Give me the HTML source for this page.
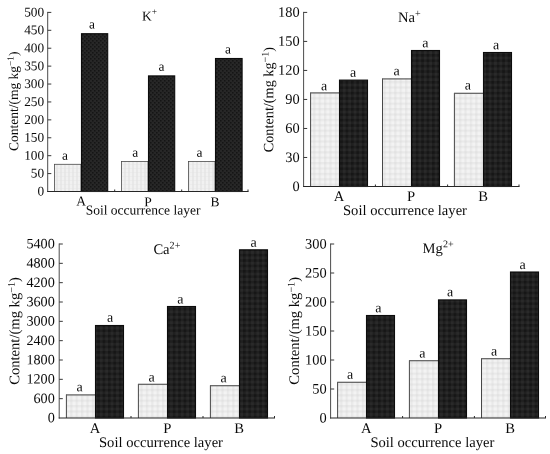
<!DOCTYPE html>
<html><head><meta charset="utf-8"><title>Soil cation content</title>
<style>
html,body{margin:0;padding:0;background:#fff;}
svg{display:block;}
text{font-family:"Liberation Serif", "DejaVu Serif", serif;fill:#0a0a0a;text-rendering:geometricPrecision;}
</style></head><body>
<svg width="550" height="454" viewBox="0 0 550 454">
<defs>
<pattern id="pl" width="4" height="4" patternUnits="userSpaceOnUse"><rect width="4" height="4" fill="#f1f1f1"/><rect x="0" y="0" width="2" height="4" fill="#e8e8e8"/><rect x="0" y="0" width="4" height="1" fill="#e4e4e4" opacity="0.3"/></pattern>
<pattern id="pd" width="4" height="4" patternUnits="userSpaceOnUse"><rect width="4" height="4" fill="#272727"/><rect x="0" y="0" width="1.6" height="1.6" fill="#151515"/><rect x="2" y="2" width="1.6" height="1.6" fill="#151515"/></pattern>
<pattern id="pl2" width="5.4" height="5.4" patternUnits="userSpaceOnUse"><rect width="5.4" height="5.4" fill="#f3f3f3"/><rect x="0" y="0" width="2.2" height="5.4" fill="#e9e9e9"/><rect x="0" y="0" width="5.4" height="2.2" fill="#e9e9e9"/><rect x="0" y="0" width="2.2" height="2.2" fill="#e2e2e2"/></pattern>
<pattern id="pd2" width="5.4" height="5.4" patternUnits="userSpaceOnUse"><rect width="5.4" height="5.4" fill="#2a2a2a"/><rect x="0" y="0" width="2.6" height="5.4" fill="#202020"/><rect x="0" y="0" width="5.4" height="2.6" fill="#202020"/><rect x="0" y="0" width="2.6" height="2.6" fill="#161616"/></pattern>
</defs>
<rect width="550" height="454" fill="#fff"/>

<g id="K">
<rect x="54.5" y="164.30" width="26.50" height="27.20" fill="url(#pl)" stroke="#4a4a4a" stroke-width="0.8"/>
<rect x="81.50" y="33.70" width="26.20" height="157.80" fill="url(#pd)" stroke="#0c0c0c" stroke-width="1.1"/>
<text x="65.1" y="159.7" transform="rotate(0.03 65.1 159.7)" font-size="13.4" text-anchor="middle">a</text>
<text x="92" y="28.6" transform="rotate(0.03 92 28.6)" font-size="13.4" text-anchor="middle">a</text>
<rect x="121.4" y="161.40" width="26.60" height="30.10" fill="url(#pl)" stroke="#4a4a4a" stroke-width="0.8"/>
<rect x="148.50" y="75.90" width="26.20" height="115.60" fill="url(#pd)" stroke="#0c0c0c" stroke-width="1.1"/>
<text x="135.2" y="156.8" transform="rotate(0.03 135.2 156.8)" font-size="13.4" text-anchor="middle">a</text>
<text x="161.4" y="70.8" transform="rotate(0.03 161.4 70.8)" font-size="13.4" text-anchor="middle">a</text>
<rect x="188.4" y="161.40" width="26.60" height="30.10" fill="url(#pl)" stroke="#4a4a4a" stroke-width="0.8"/>
<rect x="215.50" y="58.50" width="26.60" height="133.00" fill="url(#pd)" stroke="#0c0c0c" stroke-width="1.1"/>
<text x="199.4" y="156.8" transform="rotate(0.03 199.4 156.8)" font-size="13.4" text-anchor="middle">a</text>
<text x="228" y="53.6" transform="rotate(0.03 228 53.6)" font-size="13.4" text-anchor="middle">a</text>
<path d="M47.7 11.9V192.0" fill="none" stroke="#383838" stroke-width="0.9"/>
<path d="M47.25 191.5H248.5" fill="none" stroke="#262626" stroke-width="1.05"/>
<text x="44.1" y="195.5" transform="rotate(0.03 44.1 195.5)" font-size="13.3" text-anchor="end">0</text>
<path d="M47.7 173.59h3.6" stroke="#383838" stroke-width="1"/>
<text x="44.1" y="177.6" transform="rotate(0.03 44.1 177.6)" font-size="13.3" text-anchor="end">50</text>
<path d="M47.7 155.68h3.6" stroke="#383838" stroke-width="1"/>
<text x="44.1" y="159.7" transform="rotate(0.03 44.1 159.7)" font-size="13.3" text-anchor="end">100</text>
<path d="M47.7 137.77h3.6" stroke="#383838" stroke-width="1"/>
<text x="44.1" y="141.8" transform="rotate(0.03 44.1 141.8)" font-size="13.3" text-anchor="end">150</text>
<path d="M47.7 119.86h3.6" stroke="#383838" stroke-width="1"/>
<text x="44.1" y="123.9" transform="rotate(0.03 44.1 123.9)" font-size="13.3" text-anchor="end">200</text>
<path d="M47.7 101.95h3.6" stroke="#383838" stroke-width="1"/>
<text x="44.1" y="106.0" transform="rotate(0.03 44.1 106.0)" font-size="13.3" text-anchor="end">250</text>
<path d="M47.7 84.04h3.6" stroke="#383838" stroke-width="1"/>
<text x="44.1" y="88.1" transform="rotate(0.03 44.1 88.1)" font-size="13.3" text-anchor="end">300</text>
<path d="M47.7 66.13h3.6" stroke="#383838" stroke-width="1"/>
<text x="44.1" y="70.2" transform="rotate(0.03 44.1 70.2)" font-size="13.3" text-anchor="end">350</text>
<path d="M47.7 48.22h3.6" stroke="#383838" stroke-width="1"/>
<text x="44.1" y="52.2" transform="rotate(0.03 44.1 52.2)" font-size="13.3" text-anchor="end">400</text>
<path d="M47.7 30.31h3.6" stroke="#383838" stroke-width="1"/>
<text x="44.1" y="34.3" transform="rotate(0.03 44.1 34.3)" font-size="13.3" text-anchor="end">450</text>
<path d="M47.7 12.40h3.6" stroke="#383838" stroke-width="1"/>
<text x="44.1" y="16.4" transform="rotate(0.03 44.1 16.4)" font-size="13.3" text-anchor="end">500</text>
<path d="M114.7 191.5v-2" stroke="#2a2a2a" stroke-width="1"/>
<path d="M181.7 191.5v-2" stroke="#2a2a2a" stroke-width="1"/>
<path d="M248.0 191.5v-2" stroke="#2a2a2a" stroke-width="1"/>
<text x="81" y="205.6" transform="rotate(0.03 81 205.6)" font-size="13.5" text-anchor="middle">A</text>
<text x="148" y="206.2" transform="rotate(0.03 148 206.2)" font-size="13.5" text-anchor="middle">P</text>
<text x="215" y="206.2" transform="rotate(0.03 215 206.2)" font-size="13.5" text-anchor="middle">B</text>
<text x="85.7" y="214.4" transform="rotate(0.03 85.7 214.4)" font-size="13.5" text-anchor="start">Soil occurrence layer</text>
<text x="142" y="20.4" transform="rotate(0.03 142 20.4)" font-size="13.5">K<tspan dy="-5.6" font-size="9.3">+</tspan></text>
<text transform="translate(18.1 101.3) rotate(-90.03)" font-size="13.5" text-anchor="middle">Content/(mg kg<tspan dy="-4.6" font-size="9.3">−1</tspan><tspan dy="4.6">)</tspan></text>
</g>
<g id="Na">
<rect x="310.6" y="92.60" width="28.40" height="93.90" fill="url(#pl2)"/>
<path d="M310.6 186.5V92.6" stroke="#333" stroke-width="0.9" fill="none"/>
<path d="M310.20000000000005 92.89999999999999H339" stroke="#5c5c5c" stroke-width="1.2" fill="none"/>
<rect x="339.50" y="80.10" width="28.00" height="106.40" fill="url(#pd2)" stroke="#0c0c0c" stroke-width="1.1"/>
<text x="324" y="90.2" transform="rotate(0.03 324 90.2)" font-size="14" text-anchor="middle">a</text>
<text x="353" y="76.8" transform="rotate(0.03 353 76.8)" font-size="14" text-anchor="middle">a</text>
<rect x="382.5" y="78.60" width="28.50" height="107.90" fill="url(#pl2)"/>
<path d="M382.5 186.5V78.6" stroke="#333" stroke-width="0.9" fill="none"/>
<path d="M382.1 78.89999999999999H411" stroke="#5c5c5c" stroke-width="1.2" fill="none"/>
<rect x="411.50" y="50.50" width="28.00" height="136.00" fill="url(#pd2)" stroke="#0c0c0c" stroke-width="1.1"/>
<text x="396.6" y="75.2" transform="rotate(0.03 396.6 75.2)" font-size="14" text-anchor="middle">a</text>
<text x="425.4" y="47.2" transform="rotate(0.03 425.4 47.2)" font-size="14" text-anchor="middle">a</text>
<rect x="454.4" y="93.00" width="28.60" height="93.50" fill="url(#pl2)"/>
<path d="M454.4 186.5V93" stroke="#333" stroke-width="0.9" fill="none"/>
<path d="M454.0 93.3H483" stroke="#5c5c5c" stroke-width="1.2" fill="none"/>
<rect x="483.50" y="52.50" width="28.00" height="134.00" fill="url(#pd2)" stroke="#0c0c0c" stroke-width="1.1"/>
<text x="467.8" y="89.6" transform="rotate(0.03 467.8 89.6)" font-size="14" text-anchor="middle">a</text>
<text x="496" y="49.2" transform="rotate(0.03 496 49.2)" font-size="14" text-anchor="middle">a</text>
<path d="M303.6 11.9V187.0" fill="none" stroke="#383838" stroke-width="0.9"/>
<path d="M303.15000000000003 186.5H519.5" fill="none" stroke="#262626" stroke-width="1.05"/>
<text x="299.7" y="190.9" transform="rotate(0.03 299.7 190.9)" font-size="14.4" text-anchor="end">0</text>
<path d="M303.6 157.48h3.6" stroke="#383838" stroke-width="1"/>
<text x="299.7" y="161.9" transform="rotate(0.03 299.7 161.9)" font-size="14.4" text-anchor="end">30</text>
<path d="M303.6 128.47h3.6" stroke="#383838" stroke-width="1"/>
<text x="299.7" y="132.8" transform="rotate(0.03 299.7 132.8)" font-size="14.4" text-anchor="end">60</text>
<path d="M303.6 99.45h3.6" stroke="#383838" stroke-width="1"/>
<text x="299.7" y="103.8" transform="rotate(0.03 299.7 103.8)" font-size="14.4" text-anchor="end">90</text>
<path d="M303.6 70.43h3.6" stroke="#383838" stroke-width="1"/>
<text x="299.7" y="74.8" transform="rotate(0.03 299.7 74.8)" font-size="14.4" text-anchor="end">120</text>
<path d="M303.6 41.42h3.6" stroke="#383838" stroke-width="1"/>
<text x="299.7" y="45.8" transform="rotate(0.03 299.7 45.8)" font-size="14.4" text-anchor="end">150</text>
<path d="M303.6 12.40h3.6" stroke="#383838" stroke-width="1"/>
<text x="299.7" y="16.8" transform="rotate(0.03 299.7 16.8)" font-size="14.4" text-anchor="end">180</text>
<path d="M375.4 186.5v-2" stroke="#2a2a2a" stroke-width="1"/>
<path d="M447.6 186.5v-2" stroke="#2a2a2a" stroke-width="1"/>
<path d="M519.0 186.5v-2" stroke="#2a2a2a" stroke-width="1"/>
<text x="339" y="201" transform="rotate(0.03 339 201)" font-size="14.6" text-anchor="middle">A</text>
<text x="411" y="201" transform="rotate(0.03 411 201)" font-size="14.6" text-anchor="middle">P</text>
<text x="483" y="201" transform="rotate(0.03 483 201)" font-size="14.6" text-anchor="middle">B</text>
<text x="343" y="215" transform="rotate(0.03 343 215)" font-size="14.6" text-anchor="start">Soil occurrence layer</text>
<text x="398" y="22" transform="rotate(0.03 398 22)" font-size="14.6">Na<tspan dy="-5.6" font-size="10.1">+</tspan></text>
<text transform="translate(273.2 99.6) rotate(-90.03)" font-size="14.25" text-anchor="middle">Content/(mg kg<tspan dy="-4.6" font-size="10.1">−1</tspan><tspan dy="4.6">)</tspan></text>
</g>
<g id="Ca">
<rect x="66.4" y="394.60" width="28.60" height="23.40" fill="url(#pl2)"/>
<path d="M66.4 418V394.6" stroke="#333" stroke-width="0.9" fill="none"/>
<path d="M66.0 394.90000000000003H95" stroke="#5c5c5c" stroke-width="1.2" fill="none"/>
<rect x="95.50" y="325.50" width="28.00" height="92.50" fill="url(#pd2)" stroke="#0c0c0c" stroke-width="1.1"/>
<text x="79.6" y="391.2" transform="rotate(0.03 79.6 391.2)" font-size="14" text-anchor="middle">a</text>
<text x="110" y="321.8" transform="rotate(0.03 110 321.8)" font-size="14" text-anchor="middle">a</text>
<rect x="138.4" y="384.00" width="28.60" height="34.00" fill="url(#pl2)"/>
<path d="M138.4 418V384" stroke="#333" stroke-width="0.9" fill="none"/>
<path d="M138.0 384.3H167" stroke="#5c5c5c" stroke-width="1.2" fill="none"/>
<rect x="167.50" y="306.50" width="28.00" height="111.50" fill="url(#pd2)" stroke="#0c0c0c" stroke-width="1.1"/>
<text x="151.6" y="381.6" transform="rotate(0.03 151.6 381.6)" font-size="14" text-anchor="middle">a</text>
<text x="180.4" y="303.6" transform="rotate(0.03 180.4 303.6)" font-size="14" text-anchor="middle">a</text>
<rect x="210.4" y="385.40" width="28.60" height="32.60" fill="url(#pl2)"/>
<path d="M210.4 418V385.4" stroke="#333" stroke-width="0.9" fill="none"/>
<path d="M210.0 385.7H239" stroke="#5c5c5c" stroke-width="1.2" fill="none"/>
<rect x="239.50" y="249.80" width="28.00" height="168.20" fill="url(#pd2)" stroke="#0c0c0c" stroke-width="1.1"/>
<text x="223.6" y="382.2" transform="rotate(0.03 223.6 382.2)" font-size="14" text-anchor="middle">a</text>
<text x="253.6" y="246.7" transform="rotate(0.03 253.6 246.7)" font-size="14" text-anchor="middle">a</text>
<path d="M59.2 243.5V418.5" fill="none" stroke="#383838" stroke-width="0.9"/>
<path d="M58.75 418H275" fill="none" stroke="#262626" stroke-width="1.05"/>
<text x="54.8" y="422.3" transform="rotate(0.03 54.8 422.3)" font-size="14.2" text-anchor="end">0</text>
<path d="M59.2 398.67h3.6" stroke="#383838" stroke-width="1"/>
<text x="54.8" y="403.0" transform="rotate(0.03 54.8 403.0)" font-size="14.2" text-anchor="end">600</text>
<path d="M59.2 379.33h3.6" stroke="#383838" stroke-width="1"/>
<text x="54.8" y="383.6" transform="rotate(0.03 54.8 383.6)" font-size="14.2" text-anchor="end">1200</text>
<path d="M59.2 360.00h3.6" stroke="#383838" stroke-width="1"/>
<text x="54.8" y="364.3" transform="rotate(0.03 54.8 364.3)" font-size="14.2" text-anchor="end">1800</text>
<path d="M59.2 340.67h3.6" stroke="#383838" stroke-width="1"/>
<text x="54.8" y="345.0" transform="rotate(0.03 54.8 345.0)" font-size="14.2" text-anchor="end">2400</text>
<path d="M59.2 321.33h3.6" stroke="#383838" stroke-width="1"/>
<text x="54.8" y="325.6" transform="rotate(0.03 54.8 325.6)" font-size="14.2" text-anchor="end">3000</text>
<path d="M59.2 302.00h3.6" stroke="#383838" stroke-width="1"/>
<text x="54.8" y="306.3" transform="rotate(0.03 54.8 306.3)" font-size="14.2" text-anchor="end">3600</text>
<path d="M59.2 282.67h3.6" stroke="#383838" stroke-width="1"/>
<text x="54.8" y="287.0" transform="rotate(0.03 54.8 287.0)" font-size="14.2" text-anchor="end">4200</text>
<path d="M59.2 263.33h3.6" stroke="#383838" stroke-width="1"/>
<text x="54.8" y="267.6" transform="rotate(0.03 54.8 267.6)" font-size="14.2" text-anchor="end">4800</text>
<path d="M59.2 244.00h3.6" stroke="#383838" stroke-width="1"/>
<text x="54.8" y="248.3" transform="rotate(0.03 54.8 248.3)" font-size="14.2" text-anchor="end">5400</text>
<path d="M131 418v-2" stroke="#2a2a2a" stroke-width="1"/>
<path d="M203 418v-2" stroke="#2a2a2a" stroke-width="1"/>
<path d="M274.5 418v-2" stroke="#2a2a2a" stroke-width="1"/>
<text x="95" y="433" transform="rotate(0.03 95 433)" font-size="14.6" text-anchor="middle">A</text>
<text x="167.4" y="433" transform="rotate(0.03 167.4 433)" font-size="14.6" text-anchor="middle">P</text>
<text x="239" y="433" transform="rotate(0.03 239 433)" font-size="14.6" text-anchor="middle">B</text>
<text x="99" y="447" transform="rotate(0.03 99 447)" font-size="14.6" text-anchor="start">Soil occurrence layer</text>
<text x="153.4" y="254" transform="rotate(0.03 153.4 254)" font-size="14.6">Ca<tspan dy="-5.6" font-size="10.1">2+</tspan></text>
<text transform="translate(19.3 331) rotate(-90.03)" font-size="14.6" text-anchor="middle">Content/(mg kg<tspan dy="-4.6" font-size="10.1">−1</tspan><tspan dy="4.6">)</tspan></text>
</g>
<g id="Mg">
<rect x="337.6" y="382.00" width="28.40" height="36.00" fill="url(#pl2)"/>
<path d="M337.6 418V382" stroke="#333" stroke-width="0.9" fill="none"/>
<path d="M337.20000000000005 382.3H366" stroke="#5c5c5c" stroke-width="1.2" fill="none"/>
<rect x="366.50" y="315.50" width="28.00" height="102.50" fill="url(#pd2)" stroke="#0c0c0c" stroke-width="1.1"/>
<text x="350" y="378.8" transform="rotate(0.03 350 378.8)" font-size="14" text-anchor="middle">a</text>
<text x="378.4" y="312.2" transform="rotate(0.03 378.4 312.2)" font-size="14" text-anchor="middle">a</text>
<rect x="409.4" y="360.40" width="28.60" height="57.60" fill="url(#pl2)"/>
<path d="M409.4 418V360.4" stroke="#333" stroke-width="0.9" fill="none"/>
<path d="M409.0 360.7H438" stroke="#5c5c5c" stroke-width="1.2" fill="none"/>
<rect x="438.50" y="299.90" width="28.00" height="118.10" fill="url(#pd2)" stroke="#0c0c0c" stroke-width="1.1"/>
<text x="422.4" y="357.6" transform="rotate(0.03 422.4 357.6)" font-size="14" text-anchor="middle">a</text>
<text x="450" y="296.2" transform="rotate(0.03 450 296.2)" font-size="14" text-anchor="middle">a</text>
<rect x="481.5" y="358.40" width="28.50" height="59.60" fill="url(#pl2)"/>
<path d="M481.5 418V358.4" stroke="#333" stroke-width="0.9" fill="none"/>
<path d="M481.1 358.7H510" stroke="#5c5c5c" stroke-width="1.2" fill="none"/>
<rect x="510.50" y="272.00" width="28.00" height="146.00" fill="url(#pd2)" stroke="#0c0c0c" stroke-width="1.1"/>
<text x="494" y="355.6" transform="rotate(0.03 494 355.6)" font-size="14" text-anchor="middle">a</text>
<text x="522.7" y="268.9" transform="rotate(0.03 522.7 268.9)" font-size="14" text-anchor="middle">a</text>
<path d="M330.6 243.5V418.5" fill="none" stroke="#383838" stroke-width="0.9"/>
<path d="M330.15000000000003 418H546" fill="none" stroke="#262626" stroke-width="1.05"/>
<text x="326.6" y="422.4" transform="rotate(0.03 326.6 422.4)" font-size="14.4" text-anchor="end">0</text>
<path d="M330.6 389.00h3.6" stroke="#383838" stroke-width="1"/>
<text x="326.6" y="393.4" transform="rotate(0.03 326.6 393.4)" font-size="14.4" text-anchor="end">50</text>
<path d="M330.6 360.00h3.6" stroke="#383838" stroke-width="1"/>
<text x="326.6" y="364.4" transform="rotate(0.03 326.6 364.4)" font-size="14.4" text-anchor="end">100</text>
<path d="M330.6 331.00h3.6" stroke="#383838" stroke-width="1"/>
<text x="326.6" y="335.4" transform="rotate(0.03 326.6 335.4)" font-size="14.4" text-anchor="end">150</text>
<path d="M330.6 302.00h3.6" stroke="#383838" stroke-width="1"/>
<text x="326.6" y="306.4" transform="rotate(0.03 326.6 306.4)" font-size="14.4" text-anchor="end">200</text>
<path d="M330.6 273.00h3.6" stroke="#383838" stroke-width="1"/>
<text x="326.6" y="277.4" transform="rotate(0.03 326.6 277.4)" font-size="14.4" text-anchor="end">250</text>
<path d="M330.6 244.00h3.6" stroke="#383838" stroke-width="1"/>
<text x="326.6" y="248.4" transform="rotate(0.03 326.6 248.4)" font-size="14.4" text-anchor="end">300</text>
<path d="M402.6 418v-2" stroke="#2a2a2a" stroke-width="1"/>
<path d="M474.4 418v-2" stroke="#2a2a2a" stroke-width="1"/>
<path d="M545.5 418v-2" stroke="#2a2a2a" stroke-width="1"/>
<text x="366.2" y="433" transform="rotate(0.03 366.2 433)" font-size="14.6" text-anchor="middle">A</text>
<text x="438" y="433" transform="rotate(0.03 438 433)" font-size="14.6" text-anchor="middle">P</text>
<text x="510" y="433" transform="rotate(0.03 510 433)" font-size="14.6" text-anchor="middle">B</text>
<text x="370.4" y="447" transform="rotate(0.03 370.4 447)" font-size="14.6" text-anchor="start">Soil occurrence layer</text>
<text x="422.6" y="252.9" transform="rotate(0.03 422.6 252.9)" font-size="14.6">Mg<tspan dy="-5.6" font-size="10.1">2+</tspan></text>
<text transform="translate(299 330.8) rotate(-90.03)" font-size="14.6" text-anchor="middle">Content/(mg kg<tspan dy="-4.6" font-size="10.1">−1</tspan><tspan dy="4.6">)</tspan></text>
</g>
</svg></body></html>
